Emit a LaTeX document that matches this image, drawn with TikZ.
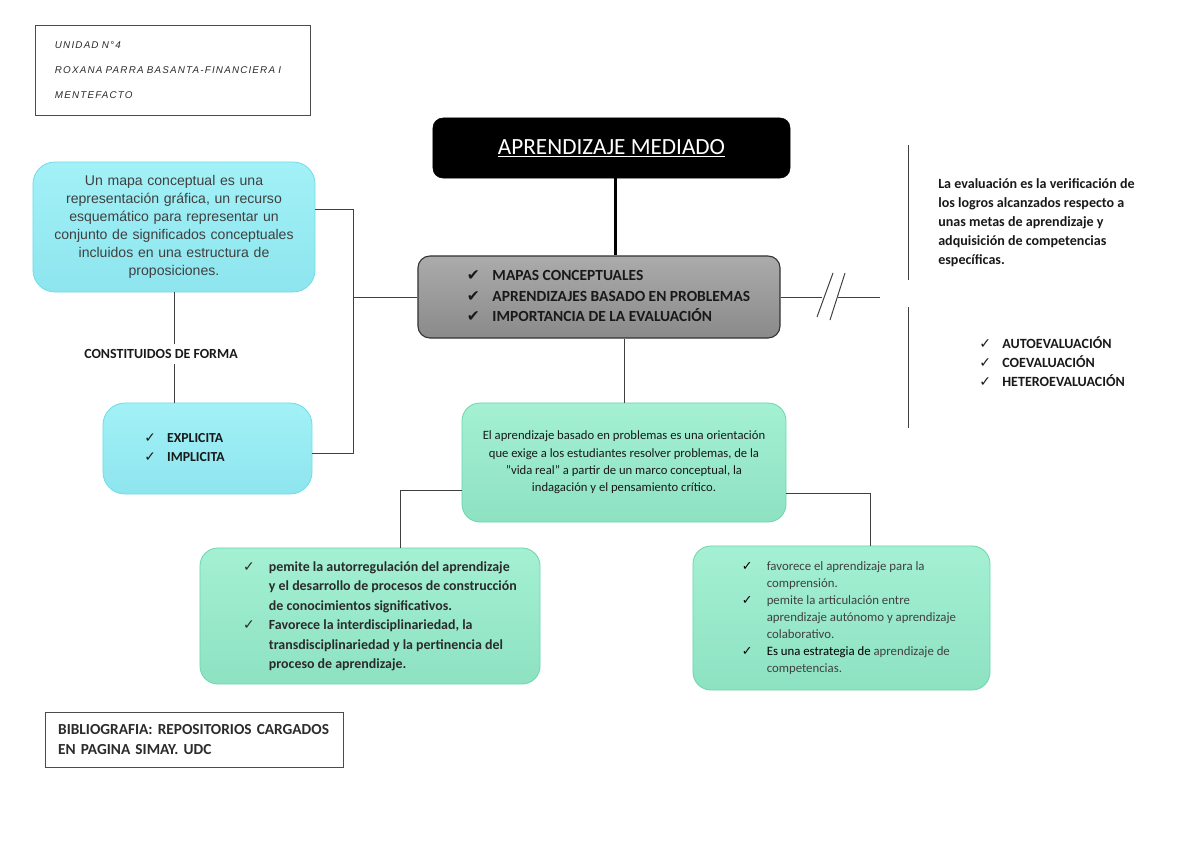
\documentclass[tikz,border=0pt]{standalone}
\usepackage{fontspec}
\setmainfont{Carlito}
\newfontfamily\arialfont{Liberation Sans}
\newfontfamily\hdrfont[LetterSpace=12]{Liberation Sans}
\newfontfamily\symfont{DejaVu Sans}
\usepackage{xcolor}
\usepackage{tikz}
\usetikzlibrary{positioning}
\frenchspacing
\definecolor{MapCyanTop}{HTML}{A2F1F7}
\definecolor{MapCyanBot}{HTML}{8EE5EE}
\definecolor{MapCyanEdge}{HTML}{74DCE8}
\definecolor{MapMintTop}{HTML}{A4F0D3}
\definecolor{MapMintBot}{HTML}{8DE2C2}
\definecolor{MapMintEdge}{HTML}{6DD7AE}
\definecolor{MapGrayTop}{HTML}{ABABAB}
\definecolor{MapGrayBot}{HTML}{8A8A8A}
\definecolor{MapText}{HTML}{404040}
\definecolor{MapDark}{HTML}{2B2B2B}
\newcommand{\chk}{{\symfont\char"2713}}
\newcommand{\hchk}{{\symfont\char"2714}}
\tikzset{
  notebox/.style={draw=black!70,line width=0.6pt,align=left,text=MapDark},
  titlebox/.style={fill=black,draw=black,rounded corners=2.5mm,text=white,font=\fontsize{16.5}{19}\selectfont},
  greybox/.style={draw=black!80,line width=0.8pt,rounded corners=3mm,top color=MapGrayTop,bottom color=MapGrayBot,text=black!90},
  cyanbox/.style={draw=MapCyanEdge,line width=0.6pt,rounded corners=5.5mm,top color=MapCyanTop,bottom color=MapCyanBot},
  mintbox/.style={draw=MapMintEdge,line width=0.6pt,rounded corners=4.5mm,top color=MapMintTop,bottom color=MapMintBot},
  linkline/.style={draw=black!75,line width=0.7pt},
  stemline/.style={draw=black,line width=2pt}
}
\begin{document}
\begin{tikzpicture}[x=0.025cm,y=-0.025cm]
\useasboundingbox (0,0) rectangle (1200,848);
% Header and title
\node[notebox,minimum width=6.875cm,minimum height=2.25cm,text width=5.875cm,inner xsep=0.5cm,font=\hdrfont\itshape\fontsize{7}{18}\selectfont] (hdr) at (172.5,70) {UNIDAD N°4\\ROXANA PARRA BASANTA-FINANCIERA I\\MENTEFACTO};
\node[titlebox,minimum width=8.925cm,minimum height=1.5cm] (title) at (611.5,148) {\underline{APRENDIZAJE MEDIADO}};
\node[greybox,minimum width=9.05cm,minimum height=2.05cm,font=\bfseries\fontsize{11}{14.5}\selectfont] (temas) at (599,297) {\hspace*{0.475cm}\begin{tabular}{@{}l@{\hspace{9pt}}l@{}}
\hchk & MAPAS CONCEPTUALES\\
\hchk & APRENDIZAJES BASADO EN PROBLEMAS\\
\hchk & IMPORTANCIA DE LA EVALUACIÓN
\end{tabular}};
\draw[stemline] ([xshift=0.09cm]title.south) -- ([xshift=0.09cm]title.south |- temas.north);

% Left lane: mapas conceptuales
\node[cyanbox,minimum width=7.05cm,minimum height=3.25cm,text width=6.7cm,align=center,font=\arialfont\fontsize{10}{12.8}\selectfont,text=MapText] (defi) at (174,227) {Un mapa conceptual es una\\representación gráfica, un recurso\\esquemático para representar un\\conjunto de significados conceptuales\\incluidos en una estructura de\\proposiciones.};
\node[font=\bfseries\fontsize{9.9}{11}\selectfont,text=black!90] (forma) at (161,354) {CONSTITUIDOS DE FORMA};
\node[cyanbox,minimum width=5.225cm,minimum height=2.275cm,font=\bfseries\fontsize{9.8}{13.5}\selectfont,text=black!90] (formas) at (207.5,448.5) {\begin{tabular}{@{}l@{\hspace{8pt}}l@{}}
\chk & EXPLICITA\\
\chk & IMPLICITA
\end{tabular}\hspace*{1.15cm}};
\draw[linkline] (defi.south) -- (defi.south |- forma.north);
\draw[linkline] (forma.south -| defi.south) -- (defi.south |- formas.north);
\coordinate (brtop) at (353,209);
\coordinate (brbot) at (353,453);
\draw[linkline] (defi.east |- brtop) -- (brtop) -- (brbot) -- (formas.east |- brbot);
\draw[linkline] (brtop |- temas.west) -- (temas.west);

% Right lane: evaluacion
\coordinate (cutL) at (822,297);
\coordinate (cutR) at (838,297);
\coordinate (evalend) at (880,297);
\draw[linkline] (temas.east) -- (cutL);
\draw[linkline] (cutR) -- (evalend);
\draw[linkline] ([shift={(-5,20)}]cutL) -- ([shift={(11,-24)}]cutL);
\draw[linkline] ([shift={(-8,23)}]cutR) -- ([shift={(7,-24)}]cutR);
\draw[linkline] (908,145) -- (908,280);
\draw[linkline] (908,307) -- (908,428);
\node[anchor=west,align=left,inner sep=0pt,font=\bfseries\fontsize{10}{13.5}\selectfont,text=black!90] (evaltxt) at (938,223) {La evaluación es la verificación de\\los logros alcanzados respecto a\\unas metas de aprendizaje y\\adquisición de competencias\\específicas.};
\node[anchor=west,inner sep=0pt,font=\bfseries\fontsize{10}{13.5}\selectfont,text=black!90] (evallist) at (979,364) {\begin{tabular}{@{}l@{\hspace{8pt}}l@{}}
\chk & AUTOEVALUACIÓN\\
\chk & COEVALUACIÓN\\
\chk & HETEROEVALUACIÓN
\end{tabular}};

% Lower lane: aprendizaje basado en problemas
\node[mintbox,minimum width=8.1cm,minimum height=2.975cm,align=center,font=\fontsize{9}{12.3}\selectfont,text=black!90] (abp) at (624,462.5) {El aprendizaje basado en problemas es una orientación\\que exige a los estudiantes resolver problemas, de la\\"vida real" a partir de un marco conceptual, la\\indagación y el pensamiento crítico.};
\draw[linkline] (abp.north |- temas.south) -- (abp.north);
\node[mintbox,minimum width=8.5cm,minimum height=3.4cm,font=\bfseries\fontsize{9.9}{13.8}\selectfont,text=MapDark] (abpl) at (370,616) {\hspace*{0.5cm}\begin{tabular}{@{}l@{\hspace{10pt}}l@{}}
\chk & pemite la autorregulación del aprendizaje\\
 & y el desarrollo de procesos de construcción\\
 & de conocimientos significativos.\\
\chk & Favorece la interdisciplinariedad, la\\
 & transdisciplinariedad y la pertinencia del\\
 & proceso de aprendizaje.
\end{tabular}};
\node[mintbox,minimum width=7.425cm,minimum height=3.6cm,font=\fontsize{9.1}{12}\selectfont,text=MapText] (abpr) at (841.5,618) {\hspace*{0.375cm}\begin{tabular}{@{}l@{\hspace{10pt}}l@{}}
{\color{black}\chk} & favorece el aprendizaje para la\\
 & comprensión.\\
{\color{black}\chk} & pemite la articulación entre\\
 & aprendizaje autónomo y aprendizaje\\
 & colaborativo.\\
{\color{black}\chk} & {\color{black}Es una estrategia de} aprendizaje de\\
 & competencias.
\end{tabular}};
\coordinate (kneeL) at (400,490);
\coordinate (kneeR) at (870,493);
\draw[linkline] (abp.west |- kneeL) -- (kneeL) -- (kneeL |- abpl.north);
\draw[linkline] (abp.east |- kneeR) -- (kneeR) -- (kneeR |- abpr.north);

% Bibliografia
\node[notebox,minimum width=7.45cm,minimum height=1.375cm,text width=6.95cm,inner xsep=0.25cm,font=\bfseries\fontsize{10.9}{14}\selectfont] (bib) at (194,739.5) {\hspace*{0.08cm}BIBLIOGRAFIA: REPOSITORIOS CARGADOS\\\hspace*{0.08cm}EN PAGINA SIMAY. UDC};
\end{tikzpicture}
\end{document}
